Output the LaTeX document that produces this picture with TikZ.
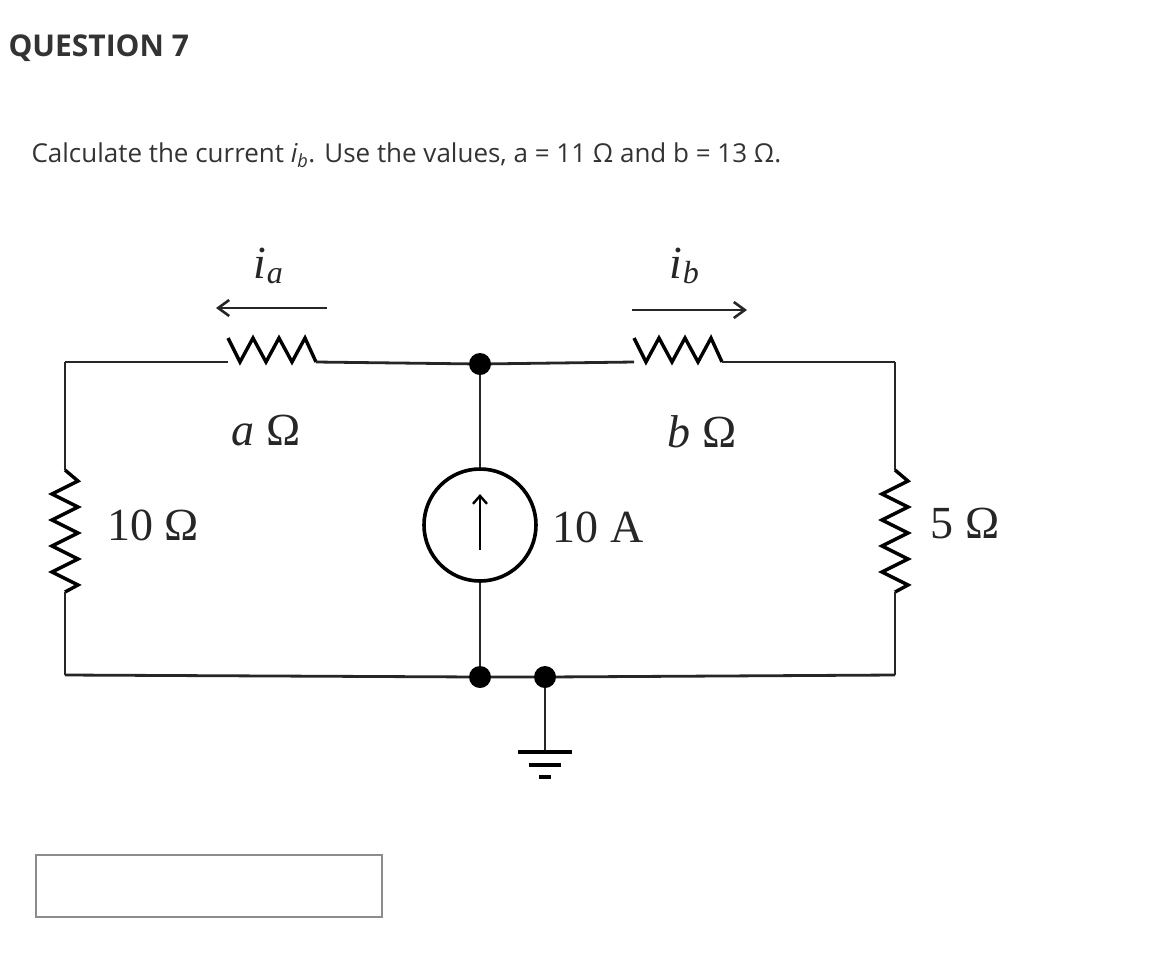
\documentclass[tikz,border=0pt]{standalone}
\usepackage{fontspec}
\setmainfont{Liberation Serif}
\newfontfamily\osans{Open Sans}
\usetikzlibrary{arrows.meta}
\begin{document}
\begin{tikzpicture}[x=1pt,y=-1pt,
  wire/.style={line width=2.8pt,black!85,line join=miter},
  res/.style={line width=3.4pt,black,line join=miter},
  dot/.style={circle,fill=black,inner sep=0pt,minimum size=22pt},
  lbl/.style={font=\fontsize{46}{46}\selectfont,text=black!85},
  cur/.style={line width=2.6pt,black!85,-{Straight Barb[length=11pt,width=16pt]}}]
\useasboundingbox (0,0) rectangle (1167,967);
\node[anchor=west,font=\osans\bfseries\fontsize{30}{30}\selectfont,text=black!80] (t) at (5,48) {QUESTION 7};
\node[anchor=west,font=\osans\fontsize{26}{26}\selectfont,text=black!80] (q) at (28,155) {Calculate the current \textit{i\textsubscript{b}}. Use the values, a = 11 Ω and b = 13 Ω.};
\node[draw=black!45,line width=1.2pt,minimum width=346pt,minimum height=62pt,inner sep=0pt] (box) at (209,886) {};
% nodes
\node[dot] (n1) at (480,364) {};
\node[dot] (n2) at (480,677) {};
\node[dot] (n3) at (545,677) {};
\node[circle,draw,line width=3.6pt,minimum size=112pt,inner sep=0pt] (src) at (480,525) {};
\coordinate (tl) at (65,362); \coordinate (tr) at (895,362);
\coordinate (bl) at (65,675); \coordinate (br) at (895,675);
\coordinate (g) at (545,752);
% top wire with resistors
\draw[wire] (tl)--(228,362);
\draw[res] (228,338)--(240,362)--(253,338)--(266,362)--(279,338)--(292,362)--(305,338)--(316,362);
\draw[wire] (316,362)--(n1);
\draw[wire] (n1)--(634,362);
\draw[res] (634,338)--(646,362)--(659,338)--(672,362)--(685,338)--(698,362)--(711,338)--(722,362);
\draw[wire] (722,362)--(tr);
% left resistor
\draw[wire] (tl)--(65,470);
\draw[res] (65,470)--(78,481)--(52,494)--(78,507)--(52,520)--(78,533)--(52,546)--(78,559)--(52,572)--(78,585)--(65,592);
\draw[wire] (65,592)--(bl);
% right resistor
\draw[wire] (tr)--(895,470);
\draw[res] (895,470)--(908,481)--(882,494)--(908,507)--(882,520)--(908,533)--(882,546)--(908,559)--(882,572)--(908,585)--(895,592);
\draw[wire] (895,592)--(br);
% bottom wire
\draw[wire] (bl)--(n2)--(n3)--(br);
\draw[wire,line width=2pt] (n1)--(src.north);
\draw[wire,line width=2pt] (src.south)--(n2);
\draw[line width=2.4pt,-{Straight Barb[length=8pt,width=14pt]}] (480,550)--(480,494);
% ground
\draw[wire,line width=2pt] (n3)--(g);
\draw[line width=3.6pt] (518,752)--(572,752);
\draw[line width=3.6pt] (529,765)--(561,765);
\draw[line width=3.6pt] (539,777)--(551,777);
% current arrows
\draw[cur] (327,308)--(216,308);
\draw[cur] (632,310)--(747,310);
% labels
\node[lbl] (ia) at (268,266) {\textit{i\kern1pt\raisebox{-5pt}{\fontsize{32}{32}\selectfont a}}};
\node[lbl] (ib) at (684,266) {\textit{i\kern1pt\raisebox{-5pt}{\fontsize{32}{32}\selectfont b}}};
\node[lbl] (la) at (266,430) {\textit{a} Ω};
\node[lbl] (lb) at (702,432) {\textit{b} Ω};
\node[lbl] (l10) at (153,525) {10 Ω};
\node[lbl] (lA) at (598,527) {10 A};
\node[lbl] (l5) at (965,523) {5 Ω};
\end{tikzpicture}
\end{document}
